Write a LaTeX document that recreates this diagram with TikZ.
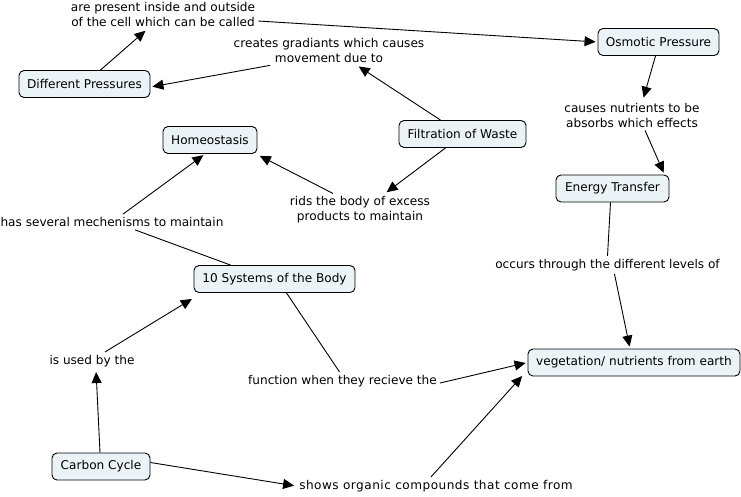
\documentclass[tikz,border=0pt]{standalone}
\usepackage{fontspec}
\setmainfont{DejaVu Sans}
\usetikzlibrary{arrows.meta}
\definecolor{boxfill}{RGB}{236,243,246}
\begin{document}
\begin{tikzpicture}[x=1pt,y=-1pt,
  font=\fontsize{12.1}{15}\selectfont,
  concept/.style={draw=black,line width=0.9pt,fill=boxfill,rounded corners=5pt,minimum height=27pt,inner xsep=0pt,inner ysep=0pt},
  lab/.style={align=center,inner sep=3pt},
  ln/.style={line width=0.9pt},
  arr/.style={line width=0.9pt,-{Triangle[length=11pt,width=10pt]},shorten >=2pt}]
\useasboundingbox (0,0) rectangle (741,496);
% concepts
\node[concept,minimum width=121pt] (osm) at (658.5,42) {Osmotic Pressure};
\node[concept,minimum width=131pt] (dif) at (84.5,84) {Different Pressures};
\node[concept,minimum width=94pt] (hom) at (210,140) {Homeostasis};
\node[concept,minimum width=127pt] (fil) at (462.5,134) {Filtration of Waste};
\node[concept,minimum width=113pt] (ene) at (612.5,188.5) {Energy Transfer};
\node[concept,minimum width=161pt] (sys) at (274.5,279) {10 Systems of the Body};
\node[concept,minimum width=212pt] (veg) at (634,362.5) {vegetation/ nutrients from earth};
\node[concept,minimum width=98pt] (car) at (101,466.5) {Carbon Cycle};
% labels
\node[lab] (l1) at (163,14) {are present inside and outside\\of the cell which can be called};
\node[lab] (l2) at (329,50) {creates gradiants which causes\\movement due to};
\node[lab] (l3) at (632,115) {causes nutrients to be\\absorbs which effects};
\node[lab] (l4) at (360,210) {rids the body of excess\\products to maintain};
\node[lab] (l5) at (112,222) {has several mechenisms to maintain};
\node[lab] (l6) at (607.5,265) {occurs through the different levels of};
\node[lab] (l7) at (92,361) {is used by the};
\node[lab] (l8) at (342.5,381) {function when they recieve the};
\node[lab] (l9) at (436,486) {\addfontfeature{LetterSpace=4}shows organic compounds that come from};
% connectors
\draw[arr] ([xshift=16pt]dif.north) -- ([xshift=-16pt]l1.south);
\draw[arr] ([yshift=-7pt]l1.east) -- (osm.west);
\draw[arr] ([xshift=-22pt]fil.north) -- ([xshift=28pt]l2.south);
\draw[arr] ([xshift=-59pt]l2.south) -- ([yshift=-3pt]dif.east);
\draw[arr] ([xshift=-17pt]fil.south) -- ([xshift=25pt]l4.north);
\draw[arr] ([xshift=-27pt]l4.north) -- ([xshift=48pt,yshift=-1pt]hom.south);
\draw[ln] ([xshift=-44pt]sys.north) -- ([xshift=23pt]l5.south);
\draw[arr] ([xshift=11pt]l5.north) -- ([xshift=-5pt]hom.south);
\draw[arr] ([xshift=-3pt]osm.south) -- ([xshift=11pt]l3.north);
\draw[arr] ([xshift=13pt]l3.south) -- ([xshift=52pt]ene.north);
\draw[ln] ([xshift=-2pt]ene.south) -- (l6.north);
\draw[arr] ([xshift=7pt]l6.south) -- ([xshift=-4pt]veg.north);
\draw[ln] ([xshift=12pt]sys.south) -- ([xshift=-3pt]l8.north);
\draw[arr] ([yshift=-2pt]l8.east) -- (veg.west);
\draw[arr] ([xshift=-1pt]car.north) -- ([xshift=4pt]l7.south);
\draw[arr] ([xshift=13pt]l7.north) -- ([yshift=-5pt]sys.south west);
\draw[arr] ([yshift=4pt]car.east) -- (l9.west);
\draw[arr] ([xshift=-5pt]l9.north) -- ([xshift=-4pt,yshift=2pt]veg.south west);
\end{tikzpicture}
\end{document}
